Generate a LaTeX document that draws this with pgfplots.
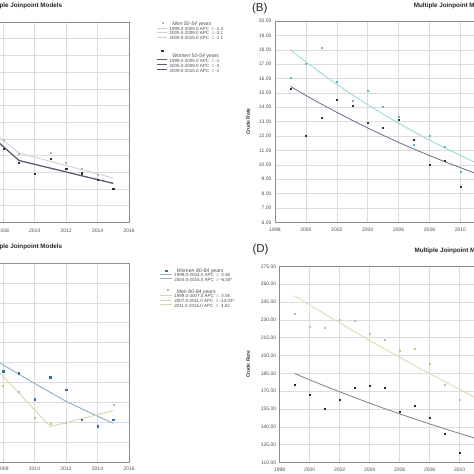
\documentclass[border=0pt]{standalone}
\usepackage{fontspec}
\setmainfont{Liberation Sans}
\usepackage{pgfplots}
\pgfplotsset{compat=1.18}
\definecolor{gridc}{HTML}{DCDCDC}
\definecolor{framec}{HTML}{8C8C8C}
\definecolor{tickc}{HTML}{505050}
\definecolor{legtext}{HTML}{505050}
\definecolor{menA}{HTML}{CFCFCF}
\definecolor{menAm}{HTML}{B4B4B4}
\definecolor{womA}{HTML}{5E5C70}
\definecolor{womAm}{HTML}{2E2E36}
\definecolor{cyanL}{HTML}{9CD9DD}
\definecolor{cyanM}{HTML}{5DB9C4}
\definecolor{darkL}{HTML}{6E6C8A}
\definecolor{darkM}{HTML}{2E2E3E}
\definecolor{blueL}{HTML}{93B4CB}
\definecolor{blueM}{HTML}{2F6EA8}
\definecolor{beigeL}{HTML}{DDD5AC}
\definecolor{beigeM}{HTML}{C8B988}
\definecolor{yelL}{HTML}{DEDDB0}
\definecolor{yelM}{HTML}{CDBE90}
\definecolor{purL}{HTML}{8E8499}
\definecolor{blkM}{HTML}{2A2A2A}
\pgfplotsset{
  panel/.style={
    scale only axis, anchor=south west,
    axis background/.style={fill=white},
    grid=major, major grid style={gridc, line width=0.5pt},
    axis line style={framec, line width=0.8pt},
    major tick length=0pt,
    tick label style={font=\fontsize{5}{6}\selectfont, text=tickc},
    /pgf/number format/assume math mode=true,
    /pgf/number format/1000 sep={},
    xmin=1998, xmax=2016, xtick={1998,2000,...,2016},
    every axis y label/.style={rotate=90, anchor=center, font=\fontsize{5}{6}\selectfont\bfseries, text=black!80},
    legend cell align=left,
  },
  pts/.style={only marks, mark=square*, mark size=#1, mark options={draw=none}},
  leg/.style={legend style={draw=none, fill=none, inner sep=0pt, outer sep=0pt,
    row sep=0pt, column sep=1.6pt, anchor=north west,
    font=\fontsize{4.5}{5}\selectfont\color{legtext},
    nodes={inner sep=0pt, outer sep=0pt}}},
  lineA/.style={legend image code/.code={\draw[##1] (0pt,1.6pt) -- (10pt,1.6pt);}},
  lineC/.style={legend image code/.code={\draw[##1] (0pt,1.6pt) -- (11.7pt,1.6pt);}},
  markA1/.style={legend image code/.code={\fill[##1] (4.5pt,1.0pt) rectangle (5.5pt,2.0pt);}},
  markA2/.style={legend image code/.code={\fill[##1] (4.3pt,-1.6pt) rectangle (5.7pt,-0.2pt);}},
  markC1/.style={legend image code/.code={\fill[##1] (5.1pt,-0.7pt) rectangle (6.5pt,0.7pt);}},
  markC2/.style={legend image code/.code={\fill[##1] (6.4pt,-1.5pt) rectangle (7.4pt,-0.5pt);}},
}
\newcommand{\hdr}[1]{{\fontsize{5.2}{6}\selectfont\itshape #1}}
\newcommand{\ttl}{\fontsize{6.3}{7}\selectfont\bfseries}
\begin{document}
\begin{tikzpicture}[x=1pt,y=1pt]
\fill[white] (0,0) rectangle (474,474);
\useasboundingbox (0,0) rectangle (474,474);
% ---------------- Panel A ----------------
\begin{scope}
\clip (0,237) rectangle (237,474);
\begin{axis}[panel, leg, at={(-153.8pt,251.7pt)}, width=282.8pt, height=200.3pt,
  ymin=0, ymax=12, ytick={0,...,12}, yticklabels={},
  xticklabel style={yshift=-3.2pt},
  legend style={at={(1.0979,1.0015)}}]
\addplot[menA, line width=0.8pt, forget plot] coordinates {(2005,7.16)(2009,4.15)(2015,2.65)};
\addplot[womA, line width=1.3pt, forget plot] coordinates {(2005,7.04)(2009,3.70)(2015,2.33)};
\addplot[pts=0.5pt, menAm, forget plot] coordinates {(2008,4.97)(2009,4.11)(2011,4.15)(2012,3.59)(2013,3.23)(2014,2.88)};
\addplot[pts=0.6pt, womAm, forget plot] coordinates {(2008,4.39)(2009,3.57)(2010,2.92)(2011,3.79)(2012,3.21)(2013,2.94)(2014,2.54)(2015,2.00)};
\addlegendimage{markA1, menAm}
\addlegendentry{\rule[-6.4pt]{0pt}{10.4pt}\hspace{2.7pt}\hdr{Men 50-54 years}}
\addlegendimage{lineA, menA, line width=0.8pt}
\addlegendentry{\rule[-1.5pt]{0pt}{4.5pt}1999.0-2005.0 APC\ \ = -1.4}
\addlegendimage{lineA, menA, line width=0.8pt}
\addlegendentry{\rule[-1.5pt]{0pt}{4.5pt}2005.0-2009.0 APC\ \ = -3.1}
\addlegendimage{lineA, menA, line width=0.8pt}
\addlegendentry{\rule[-1.5pt]{0pt}{4.5pt}2009.0-2015.0 APC\ \ = -1.1}
\addlegendimage{markA2, womAm}
\addlegendentry{\rule[-4.3pt]{0pt}{20.5pt}\hspace{2.7pt}\hdr{Women 50-54 years}}
\addlegendimage{lineA, womA, line width=1.3pt}
\addlegendentry{\rule[-1.5pt]{0pt}{5pt}1999.0-2005.0 APC\ \ = -1}
\addlegendimage{lineA, womA, line width=1.3pt}
\addlegendentry{\rule[-1.5pt]{0pt}{5pt}2005.0-2009.0 APC\ \ = -3}
\addlegendimage{lineA, womA, line width=1.3pt}
\addlegendentry{\rule[-1.5pt]{0pt}{5pt}2009.0-2015.0 APC\ \ = -1}
\end{axis}
\node[anchor=east, font=\ttl, text=black!85] at (65.7,468.3) {Multiple Joinpoint Models};
\end{scope}
% ---------------- Panel B ----------------
\begin{scope}
\clip (237,237) rectangle (474,474);
\begin{axis}[panel, at={(275pt,251.7pt)}, width=278.1pt, height=201.3pt,
  ymin=6, ymax=20, ytick={6,...,20},
  yticklabel style={/pgf/number format/.cd, fixed, fixed zerofill, precision=2},
  xticklabel style={yshift=-1.9pt},
  ylabel={Crude Rate}, ylabel style={at={(axis description cs:-0.0971,0.5)}}]
\addplot[cyanL, line width=0.9pt] coordinates {(1999,18.00)(2000,17.16)(2001,16.36)(2002,15.60)(2003,14.87)(2004,14.18)(2005,13.52)(2006,12.89)(2007,12.29)(2008,11.71)(2009,11.17)(2010,10.65)(2011,10.15)(2012,9.68)};
\addplot[darkL, line width=0.8pt] coordinates {(1999,15.45)(2000,14.82)(2001,14.22)(2002,13.65)(2003,13.09)(2004,12.56)(2005,12.05)(2006,11.56)(2007,11.09)(2008,10.64)(2009,10.21)(2010,9.80)(2011,9.40)(2012,9.02)};
\addplot[pts=0.5pt, cyanM] coordinates {(1999,16.08)(2000,17.03)(2001,18.14)(2002,15.75)(2003,14.48)(2004,15.15)(2005,14.06)(2006,13.32)(2007,11.41)(2008,12.05)(2009,11.28)(2010,9.51)};
\addplot[pts=0.5pt, darkM] coordinates {(1999,15.26)(2000,12.01)(2001,13.29)(2002,14.53)(2003,14.13)(2004,12.96)(2005,12.60)(2006,13.13)(2007,11.74)(2008,10.03)(2009,10.29)(2010,8.50)};
\end{axis}
\node[font=\fontsize{11.5}{12}\selectfont, text=black!85] at (259.7,465.3) {(B)};
\node[anchor=west, font=\ttl, text=black!85] at (410.3,468.5) {Multiple Joinpoint Models};
\end{scope}
% ---------------- Panel C ----------------
\begin{scope}
\clip (0,0) rectangle (240,237);
\begin{axis}[panel, leg, at={(-154.5pt,12pt)}, width=283.5pt, height=199pt,
  ymin=0, ymax=10, ytick={0,...,10}, yticklabels={},
  xticklabel style={yshift=-1.5pt},
  legend style={at={(1.1093,0.9744)}}]
\addplot[blueL, line width=1pt, forget plot] coordinates {(2004,6.95)(2006,5.88)(2008,4.88)(2010,3.95)(2012,3.05)(2014,2.30)(2015,1.94)};
\addplot[beigeL, line width=0.9pt, forget plot] coordinates {(1999,5.14)(2007,5.16)(2011,1.78)(2015,2.58)};
\addplot[pts=0.5pt, beigeM, forget plot] coordinates {(2008,3.85)(2009,3.55)(2010,2.21)(2011,1.94)(2012,1.99)(2015,2.90)};
\addplot[pts=0.8pt, blueM, forget plot] coordinates {(2008,4.56)(2009,4.47)(2010,3.15)(2011,4.25)(2012,3.63)(2013,2.13)(2014,1.79)(2015,2.13)};
\addlegendimage{markC1, blueM}
\addlegendentry{\rule[-3.5pt]{0pt}{7.5pt}\hspace{2.4pt}\hdr{Women 80-84 years}}
\addlegendimage{lineC, blueL, line width=1pt}
\addlegendentry{\rule[-1pt]{0pt}{4pt}1999.0-2004.0 APC\ \ =\ \ 0.36}
\addlegendimage{lineC, blueL, line width=1pt}
\addlegendentry{\rule[-1pt]{0pt}{4pt}2004.0-2015.0 APC\ \ = -6.55*}
\addlegendimage{markC2, beigeM}
\addlegendentry{\rule[-2.8pt]{0pt}{13pt}\hspace{2.4pt}\hdr{Men 80-84 years}}
\addlegendimage{lineC, beigeL, line width=0.8pt}
\addlegendentry{\rule[-1pt]{0pt}{4pt}1999.0-2007.0 APC\ \ =\ \ 0.05}
\addlegendimage{lineC, beigeL, line width=0.8pt}
\addlegendentry{\rule[-1pt]{0pt}{4pt}2007.0-2011.0 APC\ \ = -13.03*}
\addlegendimage{lineC, beigeL, line width=0.8pt}
\addlegendentry{\rule[-1pt]{0pt}{4pt}2011.0-2015.0 APC\ \ =\ \ 4.02}
\end{axis}
\node[anchor=east, font=\ttl, text=black!85] at (65.7,227) {Multiple Joinpoint Models};
\end{scope}
% ---------------- Panel D ----------------
\begin{scope}
\clip (240,0) rectangle (474,237);
\begin{axis}[panel, at={(279.7pt,11.5pt)}, width=270pt, height=196.2pt,
  ymin=110, ymax=275, ytick={110,125,...,275},
  yticklabel style={/pgf/number format/.cd, fixed, fixed zerofill, precision=2},
  xticklabel style={yshift=-2.3pt},
  ylabel={Crude Rate}, ylabel style={at={(axis description cs:-0.1174,0.5)}}]
\addplot[yelL, line width=0.9pt] coordinates {(1999,250.3)(2000,242.5)(2001,234.8)(2002,227.3)(2003,219.9)(2004,212.6)(2005,205.5)(2006,198.4)(2007,191.5)(2008,184.7)(2009,178.0)(2010,171.4)(2011,164.9)(2012,158.6)};
\addplot[purL, line width=0.9pt] coordinates {(1999,184.8)(2000,179.5)(2001,174.4)(2002,169.4)(2003,164.6)(2004,159.9)(2005,155.3)(2006,150.9)(2007,146.6)(2008,142.4)(2009,138.4)(2010,134.4)(2011,130.6)(2012,126.9)};
\addplot[pts=0.5pt, yelM] coordinates {(1999,235.2)(2000,224.0)(2001,223.5)(2002,230.5)(2003,229.0)(2004,218.0)(2005,213.4)(2006,204.0)(2007,205.5)(2008,193.0)(2009,175.8)(2010,162.7)};
\addplot[pts=0.5pt, blkM] coordinates {(1999,175.8)(2000,166.6)(2001,155.0)(2002,163.0)(2003,173.0)(2004,175.0)(2005,172.7)(2006,153.0)(2007,158.0)(2008,147.8)(2009,134.0)(2010,117.9)};
\end{axis}
\node[font=\fontsize{11.5}{12}\selectfont, text=black!85] at (260.5,224.2) {(D)};
\node[anchor=west, font=\ttl, text=black!85] at (411,222.7) {Multiple Joinpoint Models};
\end{scope}
\end{tikzpicture}
\end{document}
